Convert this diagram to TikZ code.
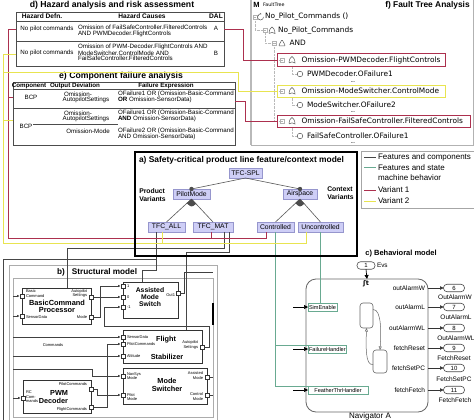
\documentclass[tikz,border=0pt]{standalone}
\usepackage{fontspec}
\setmainfont{Liberation Sans}
\newfontfamily\dvs{DejaVu Sans}
\usetikzlibrary{arrows.meta,shadows}
\definecolor{vone}{RGB}{172,48,78}
\definecolor{vtwo}{RGB}{232,228,80}
\definecolor{tealc}{RGB}{105,170,145}
\definecolor{fcol}{RGB}{70,70,70}
\definecolor{featfill}{RGB}{206,206,246}
\definecolor{featdraw}{RGB}{150,150,205}
\newcommand{\myfs}[1]{\fontsize{#1}{#1}\selectfont}
\newcommand{\ftexp}[3]{\node[expd] (#3) at (#1,#2) {}; \draw[gray!60, line width=0.4pt] (#1-1.2,#2) -- (#1+1.2,#2);}
\newcommand{\ftor}[2]{\draw[icon] (#1-3,#2+3) .. controls (#1-3,#2-1) and (#1-1,#2-3) .. (#1,#2-3.5) .. controls (#1+1,#2-3) and (#1+3,#2-1) .. (#1+3,#2+3) .. controls (#1+1,#2+1.5) and (#1-1,#2+1.5) .. (#1-3,#2+3);}
\newcommand{\ftand}[2]{\draw[icon, rounded corners=1pt] (#1-3.5,#2+3) -- (#1,#2-3.5) -- (#1+3.5,#2+3) -- cycle;}
\begin{document}
\begin{tikzpicture}[x=1pt,y=-1pt,
 every node/.style={inner sep=0pt,outer sep=0pt},
 titl/.style={font=\myfs{8.7}\bfseries},
 tb/.style={font=\myfs{6.2}},
 tbml/.style={font=\fontsize{6.2}{6}\selectfont, align=left, anchor=west},
 tbh/.style={font=\myfs{6.6}\bfseries},
 tbhe/.style={font=\myfs{6.2}\bfseries},
 tbl/.style={draw=black!70, line width=0.6pt},
 ftt/.style={font=\dvs\myfs{7.4}, anchor=west},
 ftdots/.style={font=\myfs{4.5}\bfseries},
 ftb/.style={draw, line width=0.7pt, anchor=west},
 expd/.style={draw=gray!60, fill=white, minimum size=4pt, line width=0.4pt},
 icon/.style={draw=black!65, line width=0.5pt},
 treel/.style={draw=gray!55, line width=0.4pt, densely dotted},
 feat/.style={draw=featdraw, fill=featfill, font=\myfs{6.8}, minimum height=10pt, line width=0.5pt},
 fcl/.style={draw=fcol, line width=0.6pt},
 vonel/.style={draw=vone, line width=0.6pt},
 vtwol/.style={draw=vtwo, line width=0.8pt},
 tll/.style={draw=tealc, line width=0.7pt},
 frm/.style={draw=gray!65, line width=0.8pt},
 blk/.style={draw=black!80, fill=white, line width=0.7pt, drop shadow={shadow xshift=1.3pt, shadow yshift=-1.3pt, fill=gray!55, opacity=1}},
 port/.style={draw=black!80, fill=white, minimum size=4.5pt, line width=0.5pt},
 plab/.style={font=\fontsize{4}{4.4}\selectfont},
 bname/.style={font=\fontsize{7.3}{7.7}\selectfont\bfseries, align=center},
 wire/.style={draw=black!75, line width=0.5pt},
 arr/.style={-{Latex[length=2.6pt,width=2.4pt]}},
 inbox/.style={draw=tealc, fill=white, line width=0.6pt, font=\myfs{5.6}, minimum height=8pt, inner xsep=1pt, anchor=west},
 sig/.style={font=\myfs{6.5}, anchor=east},
 ovl/.style={draw=black!70, fill=white, rounded corners=3.5pt, minimum width=21pt, minimum height=7.5pt, font=\myfs{6}, line width=0.6pt},
 olab/.style={font=\myfs{6.5}},
 bigarr/.style={-{Triangle[length=4pt,width=4pt]}, line width=0.7pt, black},
 legt/.style={font=\myfs{8}, anchor=west}
]
\useasboundingbox (0,0) rectangle (474,420);
\fill[white] (0,0) rectangle (474,420);

% ---------------- d) hazard analysis
\node[titl] (dt) at (112,5) {d) Hazard analysis and risk assessment};
\draw[tbl] (16,12) rectangle (224,66);
\draw[tbl] (16,21) -- (224,21);
\draw[tbl] (16,41) -- (224,41);
\node[tbh] (dh1) at (42,16.5) {Hazard Defn.};
\node[tbh] (dh2) at (142,16.5) {Hazard Causes};
\node[tbh] (dh3) at (216,16.5) {DAL};
\node[tb] (d1a) at (47,29) {No pilot commands};
\node[tbml] (d1b) at (78,31) {Omission of FailSafeController.FilteredControls\\AND PWMDecoder.FlightControls};
\node[tb] (d1c) at (216,28.5) {A};
\node[tb] (d2a) at (47,53) {No pilot commands};
\node[tbml, font=\fontsize{6.2}{5.6}\selectfont] (d2b) at (78,52.5) {Omission of PWM-Decoder.FlightControls AND\\ModeSwitcher.ControlMode AND\\FailSafeController.FilteredControls};
\node[tb] (d2c) at (216,53) {B};
\coordinate (rAl) at (16,29);
\coordinate (rAr) at (224,29);
\coordinate (rBl) at (16,54);

% ---------------- e) component failure analysis
\node[titl] (et) at (121,76) {e) Component failure analysis};
\draw[tbl] (13,82) rectangle (235,145);
\draw[tbl] (13,89) -- (235,89);
\draw[tbl] (13,108) -- (235,108);
\draw[tbl] (33,124.5) -- (118,124.5);
\node[tbhe] (eh1) at (29,85.5) {Component};
\node[tbhe] (eh2) at (75,85.5) {Output Deviation};
\node[tbhe] (eh3) at (166,85.5) {Failure Expression};
\node[tb] (e1a) at (31,97) {BCP};
\node[tb] (e1b) at (78,94) {Omission-};
\node[tb] (e1c) at (86,99.8) {AutopilotSettings};
\node[tbml] (e1d) at (118,97) {OFailure1 OR (Omission-Basic-Command\\\textbf{OR} Omission-SensorData)};
\node[tb] (e2b) at (78,113) {Omission-};
\node[tb] (e2c) at (86,119) {AutopilotSettings};
\node[tbml] (e2d) at (118,116) {OFailure1 OR (Omission-Basic-Command\\\textbf{AND} Omission-SensorData)};
\node[tb] (e2a) at (26,126) {BCP};
\node[tb] (e3b) at (88,131) {Omission-Mode};
\node[tbml] (e3d) at (118,133.5) {OFailure2 OR (Omission-Basic-Command\\AND Omission-SensorData)};
\coordinate (e1l) at (13,97);
\coordinate (e1r) at (235,101);
\coordinate (e2l) at (13,120);

% ---------------- f) fault tree
\draw[gray!60, line width=0.6pt] (251,-2) rectangle (473,145);
\draw[gray!55, line width=1.6pt] (251,-2) -- (251,145);
\node[font=\myfs{7.5}\bfseries] (mic) at (256.5,5) {M};
\node[font=\dvs\myfs{4.8}, anchor=west] (ftl) at (263,5) {FaultTree};
\node[font=\myfs{8.4}\bfseries] (fttl) at (427.5,5.5) {f) Fault Tree Analysis};
\draw[treel] (255,19.5) |- (262.5,30.5);
\draw[treel] (265,33) |- (272,43);
\draw[treel] (274.5,45.5) |- (279.5,121);
\draw[treel] (274.5,60) -- (279.5,60);
\draw[treel] (274.5,91) -- (279.5,91);
\draw[treel] (292,67) |- (297,74);
\draw[treel] (292,97.5) |- (297,105);
\draw[treel] (292,127.5) |- (297,136);
\ftexp{255}{17}{x0}
\draw[icon,-{Stealth[length=1.8pt]}] (260.5+3,17) arc[start angle=0, end angle=290, radius=3];
\node[ftt] (r0) at (265,17) {No\_Pilot\_Commands ()};
\ftexp{265}{30.5}{x1}
\ftor{272}{30.5}
\node[ftt] (r1) at (278,30.5) {No\_Pilot\_Commands};
\ftexp{274.5}{43}{x2}
\ftand{282}{43}
\node[ftt] (r2) at (289.5,43) {AND};
\node[ftb, draw=vone, minimum width=168pt, minimum height=13pt] (ft1) at (277,60) {};
\ftexp{282}{60}{x3}
\ftor{292}{60}
\node[ftt] (r3) at (301.5,60) {Omission-PWMDecoder.FlightControls};
\draw[icon] (300,74) circle (2.8);
\node[ftt] (r4) at (307,74) {PWMDecoder.OFailure1};
\node[ftdots] (d4) at (353,82) {...};
\node[ftb, draw=vtwo, minimum width=168pt, minimum height=12pt, line width=0.9pt] (ft2) at (277,91) {};
\ftexp{282}{91}{x5}
\ftor{292}{91}
\node[ftt] (r5) at (301.5,91) {Omission-ModeSwitcher.ControlMode};
\draw[icon] (300,105) circle (2.8);
\node[ftt] (r6) at (307,105) {ModeSwitcher.OFailure2};
\node[ftdots] (d6) at (353,112.5) {...};
\node[ftb, draw=vone, minimum width=193pt, minimum height=12pt] (ft3) at (277,121) {};
\ftexp{282}{121}{x7}
\ftor{292}{121}
\node[ftt] (r7) at (301.5,121) {Omission-FailSafeController.FilteredControls};
\draw[icon] (300,136) circle (2.8);
\node[ftt] (r8) at (307,136) {FailSafeController.OFailure1};
\node[ftdots] (d8) at (353,143.3) {...};

% ---------------- legend
\draw[gray!70, line width=0.5pt] (361,151) rectangle (476,208);
\draw[fcl] (364,157) -- (376,157);
\node[legt] (lg1) at (378,157) {Features and components};
\draw[tll] (364,167.5) -- (376,167.5);
\node[legt] (lg2) at (378,167.5) {Features and state};
\node[legt] (lg3) at (378,177.5) {machine behavior};
\draw[vonel] (364,190) -- (376,190);
\node[legt] (lg4) at (378,190) {Variant 1};
\draw[vtwol] (364,201) -- (376,201);
\node[legt] (lg5) at (378,201) {Variant 2};

% ---------------- a) feature model nodes
\node[feat, minimum width=33pt] (spl) at (245.5,173) {TFC-SPL};
\node[feat, minimum width=37pt] (pm) at (191.5,194) {PilotMode};
\node[feat, minimum width=34pt] (air) at (300,194) {Airspace};
\node[feat, minimum width=37pt] (all) at (166.5,227) {TFC\_ALL};
\node[feat, minimum width=40pt] (mat) at (213,227) {TFC\_MAT};
\node[feat, minimum width=37pt] (ctl) at (275.5,227) {Controlled};
\node[feat, minimum width=45pt] (unc) at (320.5,227) {Uncontrolled};
\node[font=\myfs{6.8}\bfseries, align=left] (pv) at (152.5,195) {Product\\[1.8pt]Variants};
\node[font=\myfs{6.8}\bfseries, align=left] (cv) at (340.5,193) {Context\\[1.8pt]Variants};
\draw[gray!70!black, line width=0.6pt] (spl.south) -- (pm.north);
\draw[gray!70!black, line width=0.6pt] (spl.south) -- (air.north);
\fill[gray!60!black] (pm.north) circle (2.2);
\fill[gray!60!black] (air.north) circle (2.2);
\draw[gray!70!black, line width=0.6pt] (pm.south) -- (all.north);
\draw[gray!70!black, line width=0.6pt] (pm.south) -- (mat.north);
\draw[gray!70!black, line width=0.6pt] (air.south) -- (ctl.north);
\draw[gray!70!black, line width=0.6pt] (air.south) -- (unc.north);
\fill[gray!60!black] (191.5,199) -- (186.6,203.2) .. controls (191.5,207.5) .. (196.3,203.7) -- cycle;
\fill[gray!60!black] (300,199) -- (295.2,203.1) .. controls (300,207.5) .. (304.5,203.6) -- cycle;

% ---------------- c) behavioral model
\node[font=\myfs{7.5}\bfseries] (ct) at (401,254) {c) Behavioral model};
\node[draw=black!60, rounded corners=10pt, minimum width=122pt, minimum height=133pt, line width=0.8pt] (chart) at (367,345.5) {};
\node[ovl, minimum width=18pt] (in1) at (366,265.5) {1};
\node[font=\myfs{6.4}, anchor=west] (evs) at (377,265.5) {Evs};
\draw[bigarr] (in1.south) -- (chart.north);
\node[font=\dvs\myfs{6.5}\bfseries] (trg) at (366,284) {ʃt};
\node[inbox] (sim) at (308,307) {SimEnable};
\node[inbox] (fail) at (308,349) {FailureHandler};
\node[inbox, minimum width=60pt] (fth) at (308,390) {FeatherThrHandler};
\draw[bigarr] (sim.west) ++(-15,0) -- (sim.west);
\draw[bigarr] (fail.west) ++(-15,0) -- (fail.west);
\draw[bigarr] (fth.west) ++(-15,0) -- (fth.west);
\node[draw=black!60, rounded corners=3pt, minimum width=13pt, minimum height=25pt, line width=0.6pt] (s1) at (366.5,315.5) {};
\node[draw=black!60, rounded corners=3pt, minimum width=14pt, minimum height=23pt, line width=0.6pt] (s2) at (380,361.5) {};
\draw[black!60, line width=0.5pt, -{Triangle[open,length=3.5pt,width=3pt]}] ([yshift=6pt]s1.east) .. controls (382,309) and (381,335) .. (s2.north);
\draw[black!60, line width=0.5pt, -{Triangle[open,length=3.5pt,width=3pt]}] ([yshift=-3pt]s2.west) .. controls (365,366) and (366,345) .. (s1.south);
\node[sig] (s6) at (425,288) {outAlarmW};
\node[sig] (s7) at (425,307) {outAlarmL};
\node[sig] (s8) at (425,328) {outAlarmWL};
\node[sig] (s9) at (425,348) {fetchReset};
\node[sig] (s10) at (425,368) {fetchSetPC};
\node[sig] (s11) at (425,390) {fetchFetch};
\node[ovl] (o6) at (454,288) {6};
\node[ovl] (o7) at (454,307) {7};
\node[ovl] (o8) at (454,328) {8};
\node[ovl] (o9) at (454,348) {9};
\node[ovl] (o10) at (454,368) {10};
\node[ovl] (o11) at (454,390) {11};
\node[olab] (l6) at (455,297) {OutAlarmW};
\node[olab] (l7) at (456,317) {OutAlarmL};
\node[olab] (l8) at (456,338) {OutAlarmWL};
\node[olab] (l9) at (454,358) {FetchReset};
\node[olab] (l10) at (454,379) {FetchSetPC};
\node[olab] (l11) at (455,400) {FetchFetch};
\foreach \k in {6,7,8,9,10,11} {\draw[black!80, line width=0.6pt, -{Triangle[length=3.5pt,width=3.5pt]}] (chart.east |- o\k.west) -- (o\k.west);}
\node[font=\myfs{8}] (nav) at (370,416) {Navigator A};

% ---------------- b) structural model frames
\draw[frm] (9,265) -- (217,265) -- (217,420);
\draw[frm] (9,265) -- (9,420);
\draw[frm] (13,278) rectangle (213,417);
\node[font=\myfs{8.2}\bfseries] (bt1) at (61,272) {b)};
\node[font=\myfs{8.2}\bfseries] (bt2) at (104.5,272) {Structural model};

% blocks
\node[blk, minimum width=69pt, minimum height=36pt] (bcp) at (56.5,306) {};
\node[blk, minimum width=55pt, minimum height=36pt] (asw) at (150.5,300) {};
\node[blk, minimum width=79pt, minimum height=33pt] (fs) at (162.5,346.5) {};
\node[blk, minimum width=84pt, minimum height=36pt] (ms) at (165,386) {};
\node[blk, minimum width=68pt, minimum height=33pt] (pwm) at (57,396.5) {};
% ports
\node[port] (bp1) at (22,296) {};
\node[port] (bp2) at (22,316) {};
\node[port] (bp3) at (91,297) {};
\node[port] (bp4) at (91,317) {};
\node[port] (ap1) at (123,286) {};
\node[port] (ap2) at (123,297) {};
\node[port] (ap3) at (123,307) {};
\node[port] (ap4) at (178,293) {};
\node[port] (fp1) at (123,337) {};
\node[port] (fp2) at (123,344) {};
\node[port] (fp3) at (123,356) {};
\node[port] (fp4) at (202,347) {};
\node[port] (mp1) at (123,376) {};
\node[port] (mp2) at (123,395) {};
\node[port] (mp3) at (207,377) {};
\node[port] (mp4) at (207,395) {};
\node[port] (pp1) at (23,398) {};
\node[port] (pp2) at (91,389) {};
\node[port] (pp3) at (91,407) {};
% labels
\node[plab, align=left, anchor=west] (lb1) at (26,293.5) {Basic\\Command};
\node[plab, align=right, anchor=east] (lb2) at (87,293.5) {Autopilot\\Settings};
\node[plab, anchor=west] (lb3) at (26,317) {SensorData};
\node[plab, anchor=east] (lb4) at (87,317) {Mode};
\node[bname, font=\fontsize{7.4}{7.6}\selectfont\bfseries] (nb) at (57,306.5) {BasicCommand\\Processor};
\node[plab, anchor=west] (la1) at (127,286) {1};
\node[plab, anchor=west] (la2) at (127,297) {0};
\node[plab, anchor=west] (la3) at (127,307) {-1};
\node[font=\fontsize{6.8}{7.2}\selectfont\bfseries, align=center] (na) at (150,297) {Assisted\\Mode\\Switch};
\node[plab, anchor=east] (la4) at (175,295) {Out1};
\node[plab, anchor=west] (lf1) at (127,337) {SensorData};
\node[plab, anchor=west] (lf2) at (127,344) {PilotCommands};
\node[plab, anchor=west] (lf3) at (127,356) {Altitude};
\node[bname] (nf1) at (166,340) {Flight};
\node[bname] (nf2) at (167,357) {Stabilizer};
\node[plab, align=right, anchor=east] (lf4) at (198,345) {Autopilot\\Settings};
\node[plab, align=left, anchor=west] (lm1) at (127,376) {NavSys\\Mode};
\node[plab, align=left, anchor=west] (lm2) at (127,397) {Pilot\\Mode};
\node[bname] (nm) at (167,385) {Mode\\Switcher};
\node[plab, align=right, anchor=east] (lm3) at (203,375.5) {Assisted\\Mode};
\node[plab, align=right, anchor=east] (lm4) at (203,396.5) {Control\\Mode};
\node[plab, anchor=east] (lp2) at (87,384.5) {PilotCommands};
\node[plab, anchor=east] (lp3) at (87,409) {FlightCommands};
\node[plab, align=left, anchor=west] (lp1) at (26,397) {RC\\Com-\\mands};
\node[bname, align=right, anchor=east] (np) at (68,397) {PWM\\Decoder};
\node[plab] (cmd) at (53,345) {Commands};
% wires
\draw[wire, arr] (bp3.east) -- (ap2.west);
\draw[wire, arr] (bp4.east) -- ++(7,0) |- (ap1.west);
\draw[wire, arr] (fp4.east) -| (209,326) -- (104,326) |- (ap3.west);
\draw[wire] (ap4.east) -- (184,293) -- (184,272) -- (213,272);
\draw[wire] (mp3.east) -- (213,377);
\draw[wire] (mp4.east) -- (213,395);
\draw[black, line width=1.5pt] (213,303) -- (213,325);
\draw[wire, arr] (pp2.east) -- ++(4,0) |- (mp2.west);
\draw[wire, arr] (pp3.east) -- (107,407) |- (fp2.west);
\draw[wire, arr] (13,337) -- (fp1.west);
\draw[wire, arr] (13,356) -- (fp3.west);
\draw[wire, arr] (13,369) -- (92,369) |- (mp1.west);
\draw[wire, arr] (13,296) -- (bp1.west);
\draw[wire, arr] (13,316) -- (bp2.west);
\draw[wire, arr] (13,398) -- (pp1.west);

% ---------------- trace links
\draw[fcl] ([xshift=-10pt]all.south) -- ++(0,27) coordinate (fa1) -- (3,259) -- (3,420);
\draw[fcl] (fa1) -- ++(0,11) -| ([xshift=-8.5pt]asw.north);
\draw[fcl] ([xshift=11pt]mat.south) -- ++(0,16) -| ([xshift=10.5pt]bcp.north);
\draw[fcl] ([xshift=16pt]mat.south) -- ++(0,20) -| ([xshift=23.5pt]fs.north);
\draw[tll] (ctl.south) |- (fth.north west);
\draw[tll] (ctl.south |- fail.north west) -- (fail.north west);
\draw[tll] (unc.south) -- (unc.south |- sim.north);
\draw[vonel] (rAl) -- (8,29) -- (8,238) -| ([xshift=-9pt]ctl.south);
\draw[vonel] ([xshift=-2pt]mat.south) -- ++(0,6);
\draw[vonel] (e1l) -- (8,97);
\draw[vonel] (rAr) -- (243,29) |- (ft1.west);
\draw[vonel] (e1r) -- (245.5,101) |- (ft3.west);
\draw[vtwol] (rBl) -- (3,54) -- (3,243) -| ([xshift=-14.5pt]unc.south);
\draw[vtwol] ([xshift=-4.5pt]all.south) -- ++(0,11);
\draw[vtwol] (e2l) -- (3,120);
\draw[vtwol] (3,72) -- (238,72) |- (ft2.west);

% panel a frame on top
\draw[black, line width=1.8pt] (135,152) rectangle (357,256);
\node[font=\myfs{8.4}\bfseries, anchor=west] (at) at (139,160.5) {a) Safety-critical product line feature/context model};
\end{tikzpicture}
\end{document}
